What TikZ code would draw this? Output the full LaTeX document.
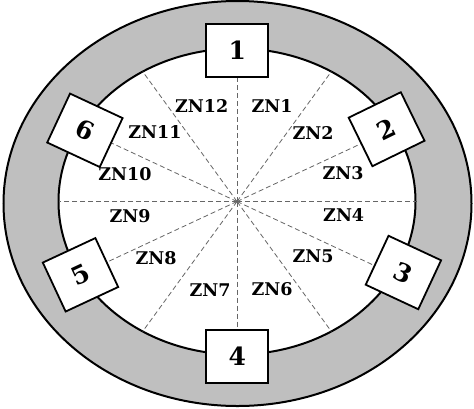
\documentclass[tikz,border=0pt]{standalone}
\usepackage{fontspec}
\newfontfamily\labfont{DejaVu Serif}
\begin{document}
\begin{tikzpicture}[x=1pt,y=-1pt,
  ring/.style={line width=2pt,draw=black},
  zoneline/.style={draw=black!60,line width=0.8pt,dash pattern=on 5pt off 3pt},
  sensor/.style={draw=black,line width=1.8pt,fill=white,minimum width=58pt,minimum height=54pt,inner sep=0pt,font=\labfont\fontsize{25}{30}\selectfont\bfseries},
  sensorv/.style={sensor,minimum width=62pt,minimum height=53pt},
  zone/.style={inner sep=0pt,font=\labfont\fontsize{17.5}{21}\selectfont\bfseries}]
\useasboundingbox (0,0) rectangle (474,408);
% rings
\fill[black!25] (237.5,203.5) ellipse [x radius=234pt, y radius=202.5pt];
\draw[ring] (237.5,203.5) ellipse [x radius=234pt, y radius=202.5pt];
\fill[white] (237,201.5) ellipse [x radius=178.5pt, y radius=153pt];
\draw[ring] (237,201.5) ellipse [x radius=178.5pt, y radius=153pt];
% centre and ends of zone lines
\coordinate (c) at (237,201.5);
\coordinate (e0) at (415.5,201.5);
\coordinate (e25) at (393.8,128.4);
\coordinate (e54) at (331.3,71.6);
\coordinate (e90) at (237,48.5);
\coordinate (e126) at (142.7,71.6);
\coordinate (e155) at (80.2,128.4);
\coordinate (e180) at (58.5,201.5);
\coordinate (e205) at (80.2,274.6);
\coordinate (e234) at (142.7,331.4);
\coordinate (e270) at (237,354.5);
\coordinate (e306) at (331.3,331.4);
\coordinate (e335) at (393.8,274.6);
\foreach \a in {0,25,54,90,126,155,180,205,234,270,306,335}
  \draw[zoneline] (c) -- (e\a);
% sensors
\node[sensorv] (s1) at (237.2,50.3) {1};
\node[sensorv] (s4) at (237.2,356.7) {4};
\node[sensor,rotate=26] (s2) at (386.6,129.2) {2};
\node[sensor,rotate=-25] (s3) at (403.4,272.5) {3};
\node[sensor,rotate=25] (s5) at (80.5,274.8) {5};
\node[sensor,rotate=-25] (s6) at (84.9,130.3) {6};
% zone labels
\node[zone] (z1) at (272,106) {ZN1};
\node[zone] (z2) at (313,133.3) {ZN2};
\node[zone] (z3) at (343,172.7) {ZN3};
\node[zone] (z4) at (343.7,215) {ZN4};
\node[zone] (z5) at (313,256) {ZN5};
\node[zone] (z6) at (272,289.3) {ZN6};
\node[zone] (z7) at (210,290) {ZN7};
\node[zone] (z8) at (156,258.3) {ZN8};
\node[zone] (z9) at (130,216) {ZN9};
\node[zone] (z10) at (125,174) {ZN10};
\node[zone] (z11) at (155,131.7) {ZN11};
\node[zone] (z12) at (201.7,106) {ZN12};
\end{tikzpicture}
\end{document}
